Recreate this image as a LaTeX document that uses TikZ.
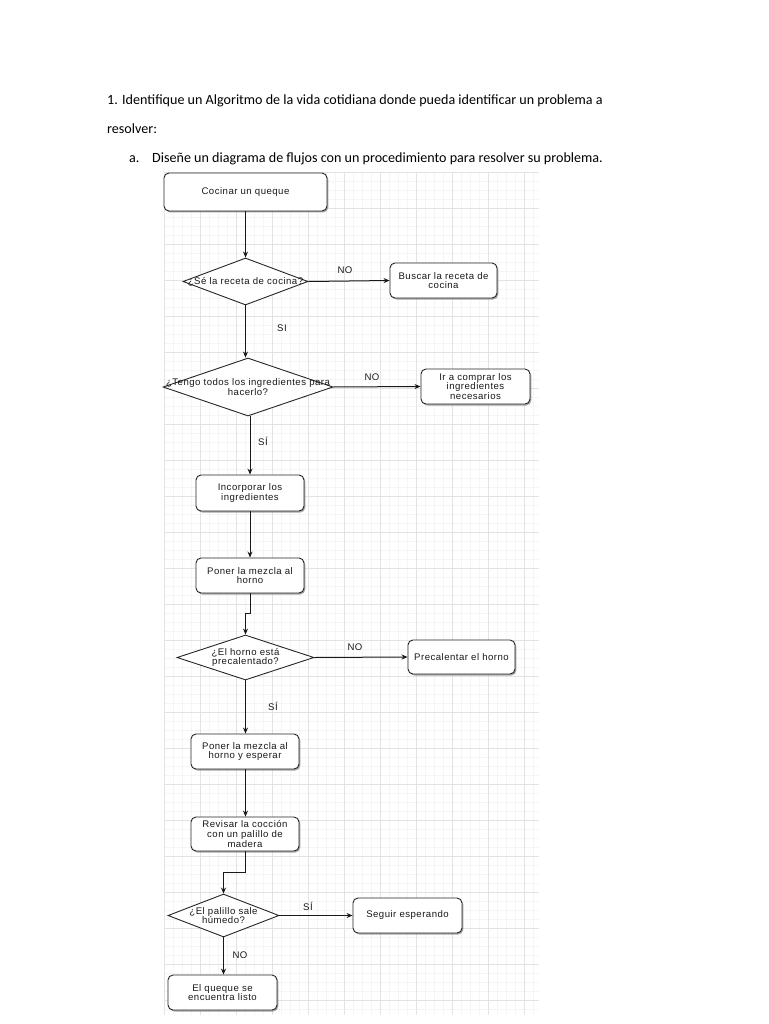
\documentclass[tikz,border=0pt]{standalone}
\usepackage{fontspec}
\setmainfont{Carlito}
\newfontfamily\flowfont[LetterSpace=5]{Liberation Sans}
\usetikzlibrary{shapes.geometric,shadows,arrows.meta}
\begin{document}
\begin{tikzpicture}[x=1pt,y=-1pt,
  box/.style={draw=black!85, line width=0.9pt, rounded corners=5pt, fill=white,
    drop shadow={shadow xshift=1.3pt, shadow yshift=-1.5pt, fill=black!50, opacity=0.7},
    align=center, inner sep=0pt, text=black!90,
    font=\flowfont\fontsize{9.6}{9.8}\selectfont},
  dia/.style={draw=black!85, line width=0.9pt, shape=diamond, inner sep=0pt, fill=white},
  dtext/.style={align=center, inner sep=0pt, text=black!90, font=\flowfont\fontsize{9.6}{9.8}\selectfont},
  lbl/.style={inner sep=0pt, text=black!90, font=\flowfont\fontsize{9.6}{9.8}\selectfont},
  arr/.style={draw=black!90, line width=1pt, -{Stealth[length=6pt,width=5pt]}},
  toptext/.style={anchor=base west, inner sep=0pt, font=\fontsize{14.1}{16}\selectfont}
]
\useasboundingbox (0,0) rectangle (768,1024);
\fill[white] (0,0) rectangle (768,1024);
% grid
\begin{scope}
\clip (164,172) rectangle (539,1015);
\foreach \i in {0,...,44} {
  \draw[black!4, line width=0.5pt] (164.7+9*\i,172) -- (164.7+9*\i,1015);
}
\foreach \j in {0,...,95} {
  \draw[black!4, line width=0.5pt] (164,172+9*\j) -- (539,172+9*\j);
}
\foreach \i in {0,...,11} {
  \draw[black!11, line width=0.7pt] (164.7+36*\i,172) -- (164.7+36*\i,1015);
}
\foreach \j in {0,...,24} {
  \draw[black!11, line width=0.7pt] (164,172+36*\j) -- (539,172+36*\j);
}
\end{scope}
% heading text
\node[toptext] (h1) at (107,105) {1. Identifique un Algoritmo de la vida cotidiana donde pueda identificar un problema a};
\node[toptext] (h2) at (107,134) {resolver:};
\node[toptext] (h3a) at (129,163) {a.};
\node[toptext] (h3) at (152,163) {Diseñe un diagrama de flujos con un procedimiento para resolver su problema.};
% nodes
\node[box, minimum width=163, minimum height=38] (start) at (245.5,192) {Cocinar un queque};
\node[dia, minimum width=125, minimum height=47] (d1) at (245.5,281.5) {};
\node[dtext] (t1) at (d1.center) {¿Sé la receta de cocina?};
\node[box, minimum width=107, minimum height=35] (b1) at (443.5,280.5) {Buscar la receta de\\cocina};
\node[dia, minimum width=170, minimum height=58] (d2) at (248,387) {};
\node[dtext] (t2) at (d2.center) {¿Tengo todos los ingredientes para\\hacerlo?};
\node[box, minimum width=109, minimum height=35] (b2) at (475.5,386.5) {Ir a comprar los\\ingredientes\\necesarios};
\node[box, minimum width=108, minimum height=36] (inc) at (250,493) {Incorporar los\\ingredientes};
\node[box, minimum width=108, minimum height=35] (pon) at (250,575.5) {Poner la mezcla al\\horno};
\node[dia, minimum width=137, minimum height=45] (d3) at (245.5,657.5) {};
\node[dtext] (t3) at (d3.center) {¿El horno está\\precalentado?};
\node[box, minimum width=107, minimum height=34] (b3) at (461.5,657) {Precalentar el horno};
\node[box, minimum width=108, minimum height=35] (esp) at (245,751.5) {Poner la mezcla al\\horno y esperar};
\node[box, minimum width=108, minimum height=34] (rev) at (245,834) {Revisar la cocción\\con un palillo de\\madera};
\node[dia, minimum width=111, minimum height=43] (d4) at (223.5,915.5) {};
\node[dtext] (t4) at (d4.center) {¿El palillo sale\\húmedo?};
\node[box, minimum width=109, minimum height=35] (seg) at (407.5,915.5) {Seguir esperando};
\node[box, minimum width=109, minimum height=35] (fin) at (222.5,992.5) {El queque se\\encuentra listo};
% labels
\node[lbl] (l1) at (345,270) {NO};
\node[lbl] (l2) at (282,328) {SI};
\node[lbl] (l3) at (372,377) {NO};
\node[lbl] (l4) at (263,441) {SÍ};
\node[lbl] (l5) at (355,647) {NO};
\node[lbl] (l6) at (273,706) {SÍ};
\node[lbl] (l7) at (308,906) {SÍ};
\node[lbl] (l8) at (240,955) {NO};
% connectors
\draw[arr] (start.south) -- (d1.north);
\draw[arr] (d1.east) -- (b1.west);
\draw[arr] (d1.south) -- (d1.south |- d2.north);
\draw[arr] (d2.east) -- (b2.west);
\draw[arr] (d2.south -| inc.north) -- (inc.north);
\draw[arr] (inc.south) -- (pon.north);
\draw[arr] (pon.south) -- ++(0,20) -| (d3.north);
\draw[arr] (d3.east) -- (b3.west);
\draw[arr] (d3.south) -- (esp.north -| d3.south);
\draw[arr] (esp.south -| d3.south) -- (rev.north -| d3.south);
\draw[arr] (rev.south -| d3.south) -- ++(0,21) -| (d4.north);
\draw[arr] (d4.east) -- (seg.west);
\draw[arr] (d4.south) -- (fin.north -| d4.south);
\end{tikzpicture}
\end{document}
